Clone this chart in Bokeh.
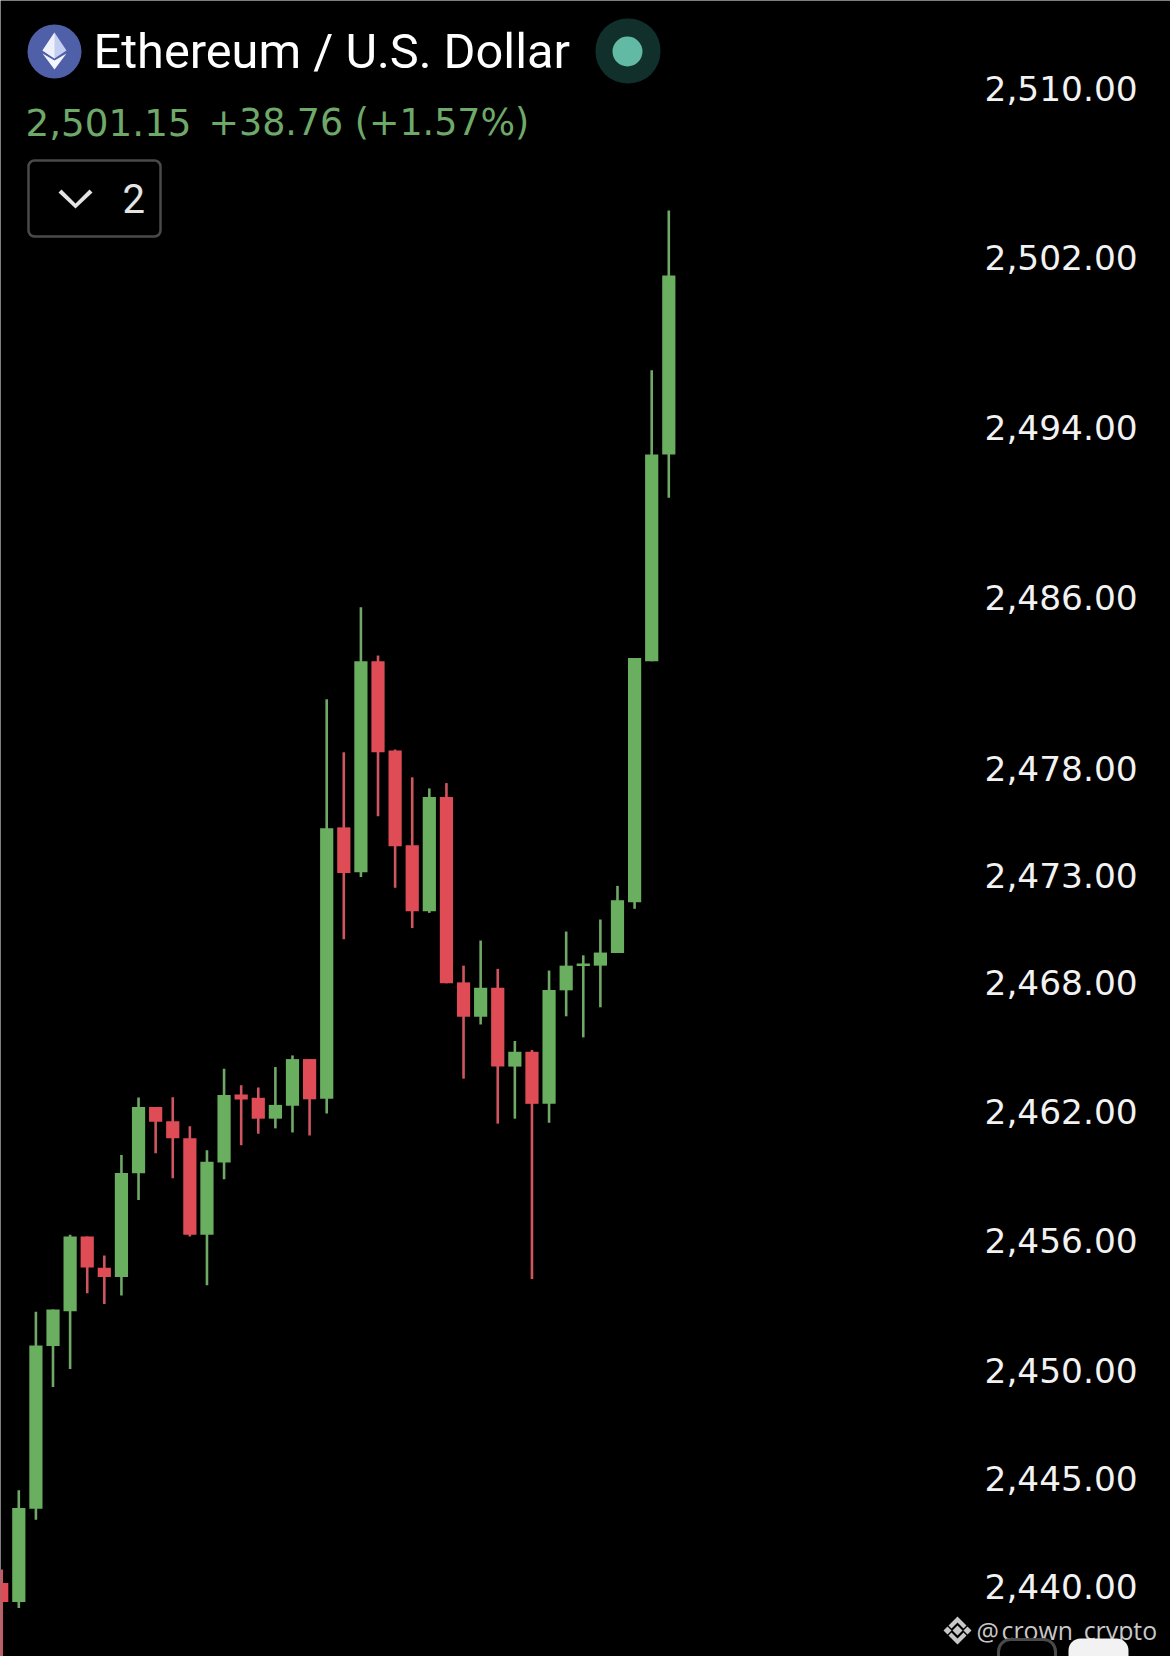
from bokeh.plotting import figure
from bokeh.embed import file_html
from bokeh.resources import INLINE
from bokeh.models import (Range1d, FixedTicker, NumeralTickFormatter, Label, BoxAnnotation,
                          PolyAnnotation, ColumnDataSource)

# Candles, oldest first
opens  = [2440.18, 2439.31, 2443.61, 2451.12, 2452.73, 2456.19, 2454.74, 2454.31, 2459.12, 2462.20,
          2461.54, 2460.75, 2456.27, 2459.62, 2462.78, 2462.63, 2461.66, 2462.26, 2464.43, 2462.58,
          2475.23, 2473.14, 2483.00, 2478.82, 2474.39, 2471.31, 2476.65, 2468.00, 2466.40, 2467.75,
          2464.08, 2464.77, 2462.35, 2467.63, 2468.76, 2468.78, 2469.37, 2471.74, 2483.00, 2492.71]
highs  = [2440.81, 2444.46, 2452.71, 2452.81, 2456.27, 2456.19, 2455.31, 2459.97, 2462.64, 2462.20,
          2462.66, 2461.31, 2460.19, 2463.98, 2463.21, 2463.11, 2464.06, 2464.60, 2464.43, 2481.22,
          2478.74, 2485.53, 2483.27, 2478.87, 2477.57, 2477.05, 2477.30, 2468.78, 2469.95, 2468.63,
          2465.27, 2464.85, 2468.55, 2470.37, 2469.26, 2470.93, 2472.50, 2483.15, 2496.68, 2504.22]
lows   = [2436.80, 2439.03, 2443.10, 2449.22, 2450.06, 2453.56, 2453.06, 2453.46, 2457.88, 2460.05,
          2458.89, 2456.19, 2453.93, 2458.85, 2460.42, 2460.96, 2461.21, 2461.02, 2460.88, 2461.90,
          2470.01, 2472.91, 2475.75, 2472.41, 2470.53, 2471.24, 2467.96, 2463.52, 2466.04, 2461.43,
          2461.66, 2454.22, 2461.47, 2466.42, 2465.44, 2466.84, 2469.37, 2471.43, 2483.00, 2490.68]
closes = [2439.31, 2443.64, 2451.14, 2452.81, 2456.19, 2454.76, 2454.31, 2459.14, 2462.20, 2461.52,
          2460.75, 2456.27, 2459.66, 2462.76, 2462.55, 2461.66, 2462.30, 2464.43, 2462.56, 2475.19,
          2473.10, 2483.00, 2478.74, 2474.35, 2471.31, 2476.65, 2467.96, 2466.40, 2467.75, 2464.08,
          2464.77, 2462.35, 2467.65, 2468.78, 2468.88, 2469.39, 2471.83, 2483.15, 2492.71, 2501.15]
price_ticks = [2440, 2445, 2450, 2456, 2462, 2468, 2473, 2478, 2486, 2494, 2502, 2510]

W, H = 1170, 1656
GREEN, RED = "#6AAE60", "#E04C56"
GREEN_W, RED_W = "#70A868", "#CF5560"

idx = list(range(len(opens)))
up = [c >= o for o, c in zip(opens, closes)]
src = ColumnDataSource(dict(
    x=idx,
    top=[max(o, c) for o, c in zip(opens, closes)],
    bottom=[min(o, c) for o, c in zip(opens, closes)],
    high=highs, low=lows,
    body=[GREEN if u else RED for u in up],
    wick=[GREEN_W if u else RED_W for u in up],
))

p = figure(width=W, height=H, frame_width=W, frame_height=H,
           output_backend="svg", toolbar_location=None,
           y_axis_type="log", y_axis_location="right",
           x_range=Range1d(-0.07, 68.33), y_range=Range1d(2436.80, 2514.16),
           background_fill_color="#000000", border_fill_color="#000000",
           min_border=0, min_border_left=0, min_border_right=0, min_border_top=0, min_border_bottom=0,
           outline_line_color="#000000", outline_line_alpha=0.0, outline_line_width=0)
p.xaxis.visible = False
p.xgrid.visible = False
p.ygrid.visible = False
ax = p.yaxis[0]
ax.fixed_location = 56.64
ax.ticker = FixedTicker(ticks=price_ticks)
ax.formatter = NumeralTickFormatter(format="0,0.00")
ax.axis_line_color = None
ax.major_tick_line_color = None
ax.minor_tick_line_color = None
ax.major_tick_out = 0
ax.major_label_standoff = 14
ax.major_label_text_color = "#F2F2F2"
ax.major_label_text_font = "DejaVu Sans"
ax.major_label_text_font_size = "34.4px"

p.segment("x", "high", "x", "low", source=src, line_color="wick", line_width=2.6)
p.vbar(x="x", width=0.772, top="top", bottom="bottom", source=src, fill_color="body", line_color=None)


def box(l, t, r, b, fill, alpha=1.0, line=None, lw=0, radius=0):
    p.add_layout(BoxAnnotation(left=l, right=r, top=t, bottom=b,
                               left_units="canvas", right_units="canvas", top_units="canvas", bottom_units="canvas",
                               fill_color=fill, fill_alpha=alpha, line_color=line, line_width=lw, line_alpha=1.0,
                               border_radius=radius, level="overlay", editable=False))


def poly(pts, fill, line=None, lw=0):
    p.add_layout(PolyAnnotation(xs=[a for a, _ in pts], ys=[b for _, b in pts],
                                xs_units="canvas", ys_units="canvas",
                                fill_color=fill, fill_alpha=1.0, line_color=line, line_width=lw, line_alpha=1.0,
                                level="overlay"))


def label(x, y, text, size, color, font="Roboto", align="left"):
    p.add_layout(Label(x=x, y=y, x_units="canvas", y_units="canvas", text=text, text_color=color,
                       text_font=font, text_font_size=f"{size}px", text_align=align, text_baseline="middle",
                       level="overlay"))


# Header: coin logo, name, status dot
box(27, 24, 81, 78, "#4F5FA8", radius=27)
poly([(54, 32), (66, 50), (54, 58), (42, 50)], "#C3CEF0")
poly([(54, 32), (54, 58), (42, 50)], "#EEF1FC")
poly([(42, 53), (54, 60), (66, 53), (54, 69)], "#F4F6FF")
label(93, 51, "Ethereum / U.S. Dollar", 48.7, "#FFFFFF")
box(595, 18, 660, 83, "#11302C", radius=32)
box(612, 36, 642, 66, "#62B9A4", radius=15)

# Price line
label(25, 122, "2,501.15", 37.3, "#6FA96A", font="DejaVu Sans")
label(208, 122, "+38.76 (+1.57%)", 36.4, "#6FA96A", font="DejaVu Sans")

# Collapse button
box(28, 160, 160, 236, "#000000", line="#4A4A4A", lw=2.5, radius=6)
poly([(58, 192), (61, 189), (75, 203), (89, 189), (92, 192), (75, 208)], "#E4E4E4")
label(122, 198, "2", 40, "#E4E4E4")

# Watermark
cx, cy = 957, 1630
C = "#C8C8C8"
poly([(cx, cy - 5), (cx + 5, cy), (cx, cy + 5), (cx - 5, cy)], C)
poly([(cx - 14, cy), (cx - 10, cy - 4), (cx - 6, cy), (cx - 10, cy + 4)], C)
poly([(cx + 14, cy), (cx + 10, cy - 4), (cx + 6, cy), (cx + 10, cy + 4)], C)
poly([(cx, cy - 14), (cx + 9, cy - 5), (cx + 6, cy - 2), (cx, cy - 8), (cx - 6, cy - 2), (cx - 9, cy - 5)], C)
poly([(cx, cy + 14), (cx + 9, cy + 5), (cx + 6, cy + 2), (cx, cy + 8), (cx - 6, cy + 2), (cx - 9, cy + 5)], C)
label(976, 1630, "@", 25, C, font="Open Sans")
label(1001, 1629, "crown_crypto", 24.8, C, font="Open Sans")

# Bottom tabs
box(998, 1639, 1055, 1680, "#000000", line="#4A4A4A", lw=3, radius=12)
box(1068, 1638, 1128, 1680, "#F2F2F2", radius=12)

open("out.html", "w").write(file_html(p, INLINE))
